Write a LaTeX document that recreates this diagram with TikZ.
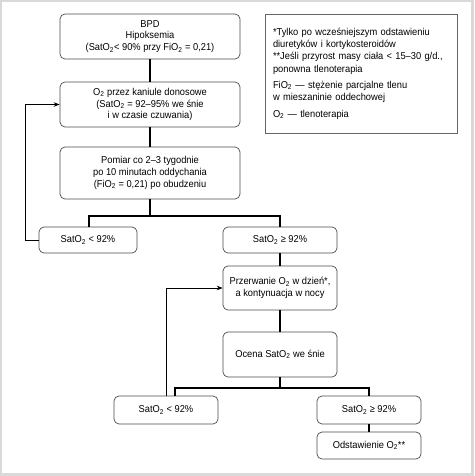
\documentclass[tikz,border=0pt]{standalone}
\usepackage{fontspec}
\setmainfont[FakeStretch=0.93]{Liberation Sans}
\usetikzlibrary{arrows.meta}
\newcommand{\two}{\textsubscript{2}}
\tikzset{
  box/.style={draw=black!70, line width=0.7pt, rounded corners=5pt, align=center,
    inner sep=0pt, font=\fontsize{10}{11.8}\selectfont},
  link/.style={line width=1.8pt},
  back/.style={line width=0.7pt, -{Stealth[length=6pt,width=4.5pt]}}
}
\begin{document}
\begin{tikzpicture}[x=1pt,y=-1pt]
  % Frame
  \fill[black!15] (0,0) rectangle (474,476);
  \fill[white] (2,2) rectangle (471,473);
  \useasboundingbox (0,0) rectangle (474,476);

  % Nodes
  \node[box, minimum width=180, minimum height=45] (bpd) at (150,36.5)
    {BPD\\Hipoksemia\\(SatO\two< 90\% przy FiO\two{} = 0,21)};
  \node[box, minimum width=180, minimum height=45] (tlen) at (150,104.5)
    {O\two{} przez kaniule donosowe\\(SatO\two{} = 92–95\% we śnie\\i w czasie czuwania)};
  \node[box, minimum width=180, minimum height=52] (pomiar) at (150,173)
    {Pomiar co 2–3 tygodnie\\po 10 minutach oddychania\\(FiO\two{} = 0,21) po obudzeniu};
  \node[box, minimum width=98, minimum height=26] (lowA) at (88,240) {SatO\two{} < 92\%};
  \node[box, minimum width=114, minimum height=26] (highA) at (280,240) {SatO\two{} ≥ 92\%};
  \node[box, minimum width=114, minimum height=44] (przerw) at (280,288)
    {Przerwanie O\two{} w dzień*,\\a kontynuacja w nocy};
  \node[box, minimum width=114, minimum height=45] (ocena) at (280,354.5) {Ocena SatO\two{} we śnie};
  \node[box, minimum width=104, minimum height=28] (lowB) at (166,410) {SatO\two{} < 92\%};
  \node[box, minimum width=104, minimum height=28] (highB) at (369,410) {SatO\two{} ≥ 92\%};
  \node[box, minimum width=104, minimum height=27] (odst) at (369,445.5) {Odstawienie O\two**};

  % Legend
  \node[draw=black!60, line width=0.7pt, minimum width=190, minimum height=119,
    text width=176, align=left, inner sep=8pt, font=\fontsize{10}{12.3}\selectfont]
    (legend) at (361,73.5)
    {*Tylko po wcześniejszym odstawieniu\\diuretyków i kortykosteroidów\\{}
     **Jeśli przyrost masy ciała < 15–30 g/d.,\\ponowna tlenoterapia\\[4pt]
     FiO\two{} — stężenie parcjalne tlenu\\w mieszaninie oddechowej\\[4pt]
     O\two{} — tlenoterapia};

  % Split points
  \coordinate (splitA) at (150,216);
  \coordinate (splitB) at (280,388);

  % Edges
  \foreach \x/\y in {bpd/tlen, tlen/pomiar, highA/przerw, przerw/ocena, highB/odst}
    \draw[link] (\x.south) -- (\y.north);
  \draw[link] (pomiar.south) -- (splitA) -| ([xshift=1]lowA.north);
  \draw[link] (splitA) -| (highA.north);
  \draw[link] (ocena.south) -- (splitB) -| ([xshift=9]lowB.north);
  \draw[link] (splitB) -| (highB.north);

  % Back arrows
  \draw[back] (lowA.west) -- ++(-13,0) |- (tlen.west);
  \draw[back] (lowB.north) |- (przerw.west);
\end{tikzpicture}
\end{document}
